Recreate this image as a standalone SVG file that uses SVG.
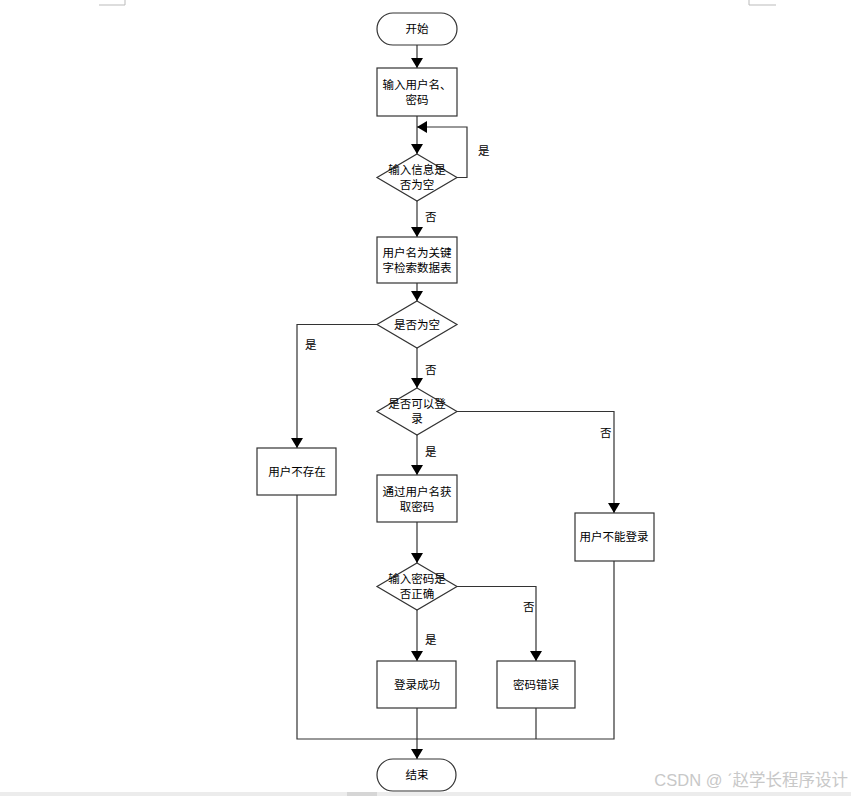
<svg xmlns="http://www.w3.org/2000/svg" width="851" height="796" viewBox="0 0 851 796">
<style>
.n{fill:#fff;stroke:#333;stroke-width:1.2}
.t{font-family:"Liberation Sans","Noto Sans CJK SC",sans-serif;font-size:11.5px;fill:#000;text-anchor:middle}
.l{font-family:"Liberation Sans","Noto Sans CJK SC",sans-serif;font-size:11.5px;fill:#000}
.c{fill:none;stroke:#333;stroke-width:1.2}
</style>
<defs>
<marker id="a" markerWidth="10" markerHeight="12" refX="10" refY="6" orient="auto" markerUnits="userSpaceOnUse">
<path d="M0,0 L10,6 L0,12 Z" fill="#000"/>
</marker>
</defs>
<rect x="0" y="0" width="851" height="796" fill="#fff"/>
<g id="page" stroke="#bbb" stroke-width="1" fill="none">
<path d="M99,5 H125 V0"/>
<path d="M749,0 V5 H776"/>
</g>
<rect x="0" y="792" width="851" height="4" fill="#ececec"/>
<rect x="347" y="792" width="30" height="4" fill="#d6d6d6"/>
<g id="connectors">
<path class="c" d="M417,45 V68" marker-end="url(#a)"/>
<path class="c" d="M417,116 V154" marker-end="url(#a)"/>
<path class="c" d="M457,177.5 H467 V127 H417" marker-end="url(#a)"/>
<path class="c" d="M417,201 V237" marker-end="url(#a)"/>
<path class="c" d="M417,283 V301" marker-end="url(#a)"/>
<path class="c" d="M377,324.5 H297 V448" marker-end="url(#a)"/>
<path class="c" d="M417,348 V388" marker-end="url(#a)"/>
<path class="c" d="M457,411.5 H614 V513" marker-end="url(#a)"/>
<path class="c" d="M417,435 V475" marker-end="url(#a)"/>
<path class="c" d="M417,522 V563" marker-end="url(#a)"/>
<path class="c" d="M457,586.5 H536 V661" marker-end="url(#a)"/>
<path class="c" d="M417,610 V661" marker-end="url(#a)"/>
<path class="c" d="M297,495 V739 H614 V561"/>
<path class="c" d="M536,708 V739"/>
<path class="c" d="M417,708 V759" marker-end="url(#a)"/>
<text class="l" x="478" y="155">是</text>
<text class="l" x="425" y="221">否</text>
<text class="l" x="305" y="349">是</text>
<text class="l" x="425" y="374">否</text>
<text class="l" x="600" y="437">否</text>
<text class="l" x="425" y="456">是</text>
<text class="l" x="523" y="611">否</text>
<text class="l" x="425" y="644">是</text>
</g>
<g id="start"><rect class="n" x="377" y="13" width="80" height="32" rx="16"/><text class="t" x="417" y="33">开始</text></g>
<g id="input"><rect class="n" x="377" y="68" width="80" height="48"/><text class="t" x="417" y="89">输入用户名、</text><text class="t" x="417" y="104">密码</text></g>
<g id="d1"><path class="n" d="M417,154 L457,177.5 L417,201 L377,177.5 Z"/><text class="t" x="417" y="174">输入信息是</text><text class="t" x="417" y="189">否为空</text></g>
<g id="search"><rect class="n" x="377" y="237" width="80" height="46"/><text class="t" x="417" y="257">用户名为关键</text><text class="t" x="417" y="272">字检索数据表</text></g>
<g id="d2"><path class="n" d="M417,301 L457,324.5 L417,348 L377,324.5 Z"/><text class="t" x="417" y="329">是否为空</text></g>
<g id="d3"><path class="n" d="M417,388 L457,411.5 L417,435 L377,411.5 Z"/><text class="t" x="417" y="408">是否可以登</text><text class="t" x="417" y="423">录</text></g>
<g id="nouser"><rect class="n" x="257" y="448" width="79" height="47"/><text class="t" x="297" y="476">用户不存在</text></g>
<g id="getpwd"><rect class="n" x="377" y="475" width="80" height="47"/><text class="t" x="417" y="496">通过用户名获</text><text class="t" x="417" y="511">取密码</text></g>
<g id="cannot"><rect class="n" x="575" y="513" width="79" height="48"/><text class="t" x="614" y="541">用户不能登录</text></g>
<g id="d4"><path class="n" d="M417,563 L457,586.5 L417,610 L377,586.5 Z"/><text class="t" x="417" y="583">输入密码是</text><text class="t" x="417" y="598">否正确</text></g>
<g id="ok"><rect class="n" x="377" y="661" width="79" height="47"/><text class="t" x="417" y="689">登录成功</text></g>
<g id="wrong"><rect class="n" x="497" y="661" width="78" height="47"/><text class="t" x="536" y="689">密码错误</text></g>
<g id="end"><rect class="n" x="377" y="759" width="79" height="32" rx="16"/><text class="t" x="417" y="779">结束</text></g>
<text x="848" y="786" style="font-family:'Liberation Sans','Noto Sans CJK SC',sans-serif;font-size:16.5px;fill:#c8c8c8;text-anchor:end">CSDN @ ˊ赵学长程序设计</text>
</svg>
